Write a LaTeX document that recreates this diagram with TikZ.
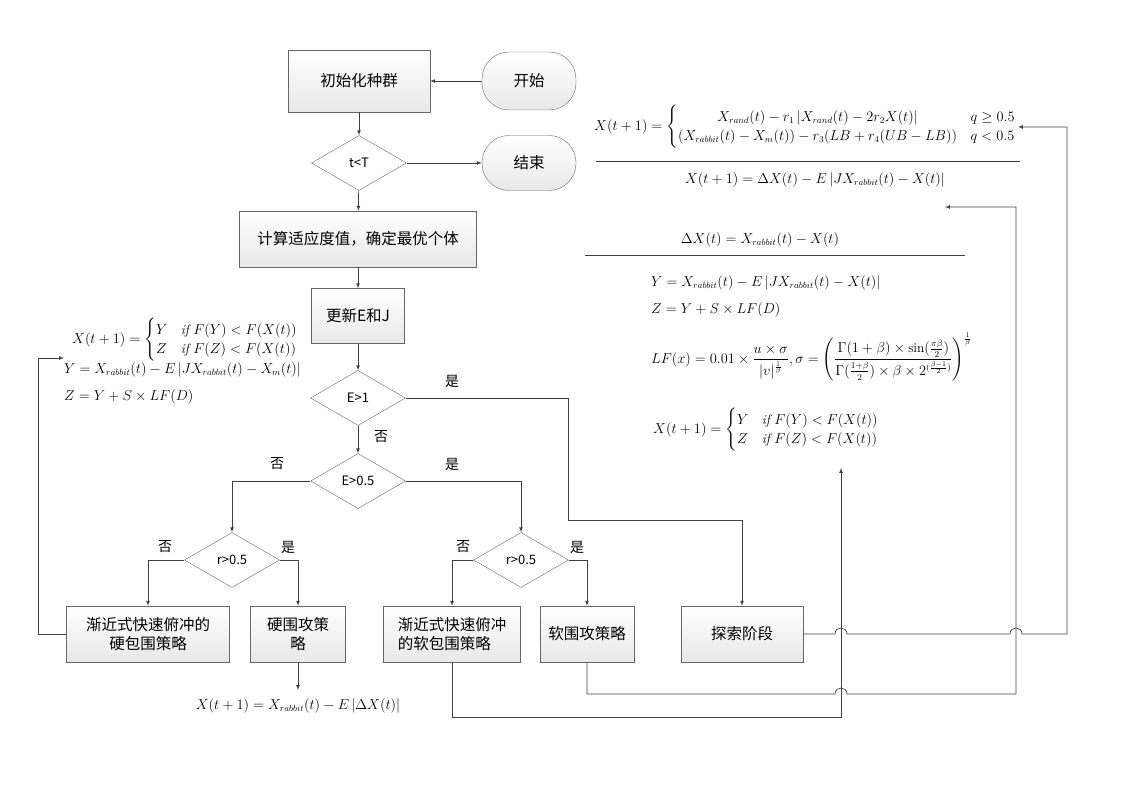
\documentclass[tikz,border=0pt]{standalone}
\usepackage{fontspec}
\usepackage{amsmath}
\newfontfamily\cjk{Noto Sans CJK SC}
\usetikzlibrary{shapes.geometric}
\tikzset{
  box/.style={draw=gray!80!black, top color=white, bottom color=gray!18, font=\cjk\fontsize{15.5}{19}\selectfont, align=center, inner sep=2pt},
  pill/.style={box, rounded corners=27pt},
  dec/.style={diamond, draw=gray!80!black, fill=white, font=\cjk\fontsize{13}{15}\selectfont, inner sep=0pt, minimum width=95, minimum height=55},
  lbl/.style={font=\cjk\fontsize{14}{16}\selectfont},
  ln/.style={draw=gray!50!black, line width=0.7pt},
  eq/.style={font=\fontsize{13.5}{16}\selectfont, inner sep=1pt},
}
\begin{document}
\begin{tikzpicture}[x=1pt,y=-1pt]
\useasboundingbox (0,0) rectangle (1123,794);

% blocks
\node[box, minimum width=142, minimum height=62] (init) at (359,81) {初始化种群};
\node[pill, minimum width=94, minimum height=58] (start) at (529,81) {开始};
\node[dec] (tT) at (359,163) {t<T};
\node[pill, minimum width=94, minimum height=55] (stop) at (529,163) {结束};
\node[box, minimum width=237, minimum height=56] (calc) at (358,239) {计算适应度值，确定最优个体};
\node[box, minimum width=93, minimum height=55] (upd) at (358,316) {更新E和J};
\node[dec] (e1) at (358,398) {E>1};
\node[dec] (e05) at (358,481) {E>0.5};
\node[dec] (rl) at (232,560) {r>0.5};
\node[dec] (rr) at (521,560) {r>0.5};
\node[box, minimum width=163, minimum height=56] (hard) at (148,634) {渐近式快速俯冲的\\硬包围策略};
\node[box, minimum width=95, minimum height=56] (hatk) at (298,634) {硬围攻策\\略};
\node[box, minimum width=137, minimum height=56, align=left] (soft) at (452,634) {渐近式快速俯冲\\的软包围策略};
\node[box, minimum width=94, minimum height=56] (satk) at (587,634) {软围攻策略};
\node[box, minimum width=122, minimum height=56] (expl) at (742,634) {探索阶段};

% formulas
\node[eq] (fq) at (805,127) {$X(t+1)=\begin{cases}\hfill X_{rand}(t)-r_1\left|X_{rand}(t)-2r_2X(t)\right|\hfill & q\geq 0.5\\ (X_{rabbit}(t)-X_m(t))-r_3(LB+r_4(UB-LB)) & q<0.5\end{cases}$};
\draw[ln] (596,161) -- (1020,161);
\node[eq] (fsa) at (815,180) {$X(t+1)=\Delta X(t)-E\left|JX_{rabbit}(t)-X(t)\right|$};
\node[eq] (fdx) at (760,240) {$\Delta X(t)=X_{rabbit}(t)-X(t)$};
\draw[ln] (585,255) -- (965,255);
\node[eq, anchor=west] (fy) at (650,283) {$Y=X_{rabbit}(t)-E\left|JX_{rabbit}(t)-X(t)\right|$};
\node[eq, anchor=west] (fz) at (650,310) {$Z=Y+S\times LF(D)$};
\node[eq, anchor=west] (flf) at (650,357) {$LF(x)=0.01\times\dfrac{u\times\sigma}{|v|^{\frac{1}{\beta}}},\sigma=\left(\dfrac{\Gamma(1+\beta)\times\sin(\frac{\pi\beta}{2})}{\Gamma(\frac{1+\beta}{2})\times\beta\times2^{(\frac{\beta-1}{2})}}\right)^{\frac{1}{\beta}}$};
\node[eq, anchor=west] (fsoft) at (652,430) {$X(t+1)=\begin{cases}Y & \mathit{if}\ F(Y)<F(X(t))\\ Z & \mathit{if}\ F(Z)<F(X(t))\end{cases}$};
\node[eq] (fhard) at (185,340) {$X(t+1)=\begin{cases}Y & \mathit{if}\ F(Y)<F(X(t))\\ Z & \mathit{if}\ F(Z)<F(X(t))\end{cases}$};
\node[eq, anchor=west] (fhy) at (63,370) {$Y=X_{rabbit}(t)-E\left|JX_{rabbit}(t)-X_m(t)\right|$};
\node[eq, anchor=west] (fhz) at (63,397) {$Z=Y+S\times LF(D)$};
\node[eq] (fha) at (298,706) {$X(t+1)=X_{rabbit}(t)-E\left|\Delta X(t)\right|$};

% connectors
\coordinate (hin) at (64,358);
\coordinate (hain) at (298,690);
\coordinate (sin) at (841,468);
\coordinate (sain) at (945,207);
\coordinate (ein) at (1018,127);
\draw[ln,-latex] (start) -- (init);
\draw[ln,-latex] (init) -- (tT);
\draw[ln,-latex] (tT) -- (stop);
\draw[ln,-latex] (tT) -- (calc);
\draw[ln,-latex] (calc) -- (upd);
\draw[ln,-latex] (upd) -- (e1);
\draw[ln,-latex] (e1) -- (e05);
\draw[ln,-latex] (e1.east) -- (568,398) -- (568,520) -- (742,520) -- (expl.north);
\draw[ln,-latex] (e05.west) -| (rl.north);
\draw[ln,-latex] (e05.east) -| (rr.north);
\draw[ln,-latex] (rl.west) -| (hard.north);
\draw[ln,-latex] (rl.east) -| (hatk.north);
\draw[ln,-latex] (rr.west) -| (soft.north);
\draw[ln,-latex] (rr.east) -| (satk.north);
\draw[ln,-latex] (hard.west) -- (38,634) -- (38,358) -- (hin);
\draw[ln,-latex] (hatk.south) -- (hain);
\draw[ln,-latex] (soft.south) -- (452,717) -- (841,717) -- (sin);
\draw[ln,-latex] (satk.south) -- (587,694) -- (835,694) .. controls (835,686) and (847,686) .. (847,694) -- (1016,694) -- (1016,207) -- (sain);
\draw[ln,-latex] (expl.east) -- (835,634) .. controls (835,626) and (847,626) .. (847,634) -- (1010,634) .. controls (1010,626) and (1022,626) .. (1022,634) -- (1067,634) -- (1067,127) -- (ein);

% labels
\node[lbl] at (452,381) {是};
\node[lbl] at (381,437) {否};
\node[lbl] at (277,464) {否};
\node[lbl] at (452,464) {是};
\node[lbl] at (165,547) {否};
\node[lbl] at (288,547) {是};
\node[lbl] at (463,547) {否};
\node[lbl] at (577,547) {是};
\end{tikzpicture}
\end{document}
